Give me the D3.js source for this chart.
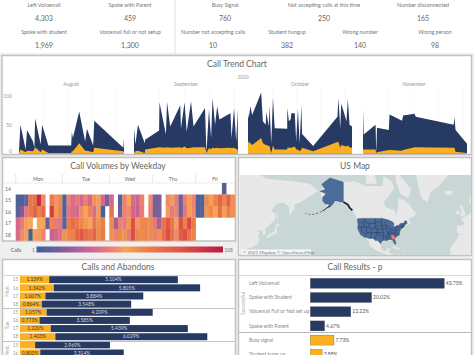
<!DOCTYPE html>
<html>
<head>
<meta charset="utf-8">
<script src="https://cdn.jsdelivr.net/npm/d3@7"></script>
<style>
  html, body { margin: 0; padding: 0; background: #efefef; overflow: hidden; }
  svg { display: block; font-family: Lato, "Open Sans", sans-serif; }
</style>
</head>
<body>
<div id="dash"></div>
<script>
// KPI tiles
const kpiLabels = ["Left Voicemail", "Spoke with Parent", "Spoke with student", "Voicemail full or not setup",
  "Busy Signal", "Not accepting calls at this time", "Number disconnected",
  "Number not accepting calls", "Student hungup", "Wrong number", "Wrong person"];
const kpiValues = ["4,303", "459", "1,969", "1,300", "760", "250", "165", "10", "382", "140", "98"];

// trend chart, hour-ish day positions
const months = ["August", "September", "October", "November"];
const monthLastDay = [31, 30, 31, 30];
const augDays = [1, 1.4, 2.9, 3.3, 5, 5.4, 5.6, 7.2, 7.6, 9.4, 15.9, 16.1, 16.4, 18.2, 19.9, 20.4, 22.2, 22.5, 30.8, 31];
const augCalls = [4, 50, 7, 41, 21, 10, 61, 16, 50, 14, 14, 38, 27, 73, 21, 43, 14, 57, 10, 27];
const augAbandons = [1, 7, 2, 5, 4, 8, 11, 2, 7, 1, 1, 4, 4, 18, 5, 5, 2, 10, 4, 2];
const sepDays = [1, 1.4, 2.1, 4, 4.1, 8, 8.1, 9.9, 10.2, 11.1, 13.9, 14.1, 15.1, 15.7, 16.9, 17.6, 20.8, 21.2, 21.9, 22.5, 22.9, 23.6, 24.2, 24.8, 27.9, 28.2, 28.9, 29.5, 29.9, 30];
const sepCalls = [44, 16, 50, 18, 24, 40, 89, 33, 90, 47, 84, 44, 89, 38, 91, 47, 79, 1, 76, 27, 96, 50, 82, 59, 70, 27, 79, 21, 76, 4];
const sepAbandons = [1, 4, 5, 1, 7, 11, 11, 10, 11, 10, 11, 9, 12, 9, 10, 11, 11, 1, 9, 8, 10, 9, 10, 9, 10, 9, 10, 8, 7, 2];
const octDays = [1, 1.2, 1.7, 2.2, 4.8, 5.3, 6.1, 6.3, 7, 7.2, 7.7, 8.2, 8.7, 12.3, 12.35, 12.8, 13.3, 13.5, 14.5, 14.9, 15.4, 15.9, 16.4, 16.6, 19.8, 26.8, 27.1, 27.6, 27.9, 29.4, 29.8, 30.3, 31];
const octCalls = [70, 61, 82, 67, 106, 56, 50, 72, 47, 83, 18, 97, 44, 43, 79, 56, 59, 70, 70, 21, 78, 18, 84, 34, 13, 64, 96, 44, 87, 56, 95, 50, 47];
const octAbandons = [17, 21, 18, 15, 27, 18, 15, 15, 13, 13, 1, 14, 7, 7, 10, 10, 10, 10, 12, 7, 7, 4, 7, 10, 4, 20, 20, 10, 15, 12, 14, 11, 10];
const novDays = [1, 1.2, 4.5, 4.7, 4.9, 8.2, 8.4, 11.9, 12.2, 15.4, 15.7, 26.3, 26.5, 26.8, 30];
const novCalls = [78, 33, 50, 1, 45, 41, 68, 57, 66, 69, 64, 50, 64, 41, 17];
const novAbandons = [7, 7, 7, 1, 2, 6, 6, 5, 6, 11, 11, 10, 10, 3, 1];

// heatmap, one list per hour, columns run Mon(11) Tue(11) Wed(10) Thu(10) Fri(9)
const hours = [14, 15, 16, 17, 18];
const weekdays = ["Mon", "Tue", "Wed", "Thu", "Fri"];
const weekdayCols = [0, 11, 22, 32, 42, 51];
const _ = null;
const calls14 = [_,_,_,_,_,_,_,_,_,_,_, _,_,_,_,_,_,_,_,_,_,_, _,_,_,_,_,_,_,_,_,_, _,_,_,_,_,_,_,_,_,_, _,_,_,_,_,_,7,_,_];
const calls15 = [5,6,10,68,70,100,46,_,66,48,60, 6,44,36,40,34,44,34,58,50,34,14, 34,_,8,44,52,36,32,44,_,46, 14,14,_,46,54,42,12,44,54,44, 6,6,60,54,64,76,62,78,58];
const calls16 = [8,16,40,68,76,64,74,_,92,56,62, 6,40,36,34,46,52,62,36,50,3,_, 70,_,12,44,46,34,30,42,_,44, 14,16,_,50,42,44,12,40,54,46, 6,8,56,60,52,72,54,66,58];
const calls17 = [34,42,54,52,_,52,52,10,62,42,40, 8,66,72,68,62,56,52,68,58,64,_, 60,24,44,42,56,84,48,62,62,60, 40,24,70,82,68,50,84,64,88,66, _,_,_,_,_,_,_,_,_];
const calls18 = [36,46,54,4,52,50,44,_,30,34,38, 58,62,64,76,82,72,68,76,60,66,_, 58,44,60,58,42,86,62,60,62,60, 44,58,72,86,70,46,80,84,70,64, _,_,_,_,_,_,_,_,_];
const callsByHour = [calls14, calls15, calls16, calls17, calls18];
const heatStops = [1, 16, 33, 44, 52, 60, 85, 108];
const heatColors = ["#3a6296", "#7f5e9c", "#cf6790", "#ee8072", "#f5a45a", "#ee8a4c", "#dd5046", "#b81a40"];

// map outlines as [lon, lat]
const northAmerica = [[-168,65.6],[-156,71.3],[-141,69.6],[-128,70],[-115,68],[-108,68],[-95,68],[-95,72],[-85,70],[-82,67],[-87,64],[-94,60],[-92,57],[-85,55.3],[-82,55],[-80,51.3],[-78,55],[-77,62],[-70,61],[-65,59],[-60,55],[-56,52],[-60,50],[-65,49],[-64,46],[-61,46],[-66,44],[-70,43.7],[-74,40.6],[-76,36.8],[-81,32],[-80,25],[-84,30],[-90,29],[-97,27],[-97.5,22],[-95,18.5],[-91,18.5],[-90.5,21],[-87,21],[-88,16],[-83.5,15],[-83.5,11],[-80,9],[-77,8.5],[-72,12],[-62,10.5],[-60,5],[-85,5],[-85,10],[-92,14.5],[-96,16],[-105,20],[-110,24],[-112,29],[-114.8,32],[-117,32.5],[-120,34.5],[-124,40],[-124.7,48.4],[-130,54.5],[-135,58],[-145,60],[-152,60],[-158,57],[-165,60]];
const baffin = [[-80,73.5],[-72,71],[-62,66.5],[-66,62],[-75,64.5],[-80,70]];
const victoria = [[-115,73],[-105,73],[-102,69],[-115,69]];
const greenland = [[-73,78],[-55,82],[-22,82],[-20,72],[-30,68],[-40,65],[-43,60],[-50,62],[-54,68],[-58,75]];
const iceland = [[-24,65.5],[-15,66],[-14,64.5],[-20,63.5]];
const cuba = [[-85,22],[-80,23],[-74.5,20],[-78,20]];
const hispaniola = [[-74,19.8],[-68.5,18.8],[-71,18]];
const europe = [[-9.5,37],[-9,43],[-1.5,43.5],[-1,46],[-4.5,48.5],[2,51],[8,54],[8,58],[5,60],[6,63],[14,68],[25,72],[40,70],[40,35],[-5,36]];
const britain = [[-5.5,50],[1.5,51.5],[-1.5,55],[-3,58.5],[-6,57.5],[-3.5,54],[-5,52]];
const ireland = [[-10,52],[-6,52.2],[-6,55],[-10,54]];
const africa = [[-6,36],[10,37],[30,31],[50,12],[40,-20],[10,0],[8,4.5],[-8,4.5],[-17,14.7],[-17,21],[-10,30]];
const asia = [[92,77],[113,74],[130,71],[160,70],[180,69],[-170,66],[-175,64.5],[178,62.5],[170,60],[163,59],[162,56],[156.7,51],[156,57],[150,59.5],[142,59],[135,54.5],[141,52],[140,48],[132,43],[128,40],[129,35.5],[126,34.5],[125,39],[121,39],[118,38.5],[122,37],[120,34],[122,30],[119,25],[113,22],[108,21.5],[106,19],[109,13],[105,9],[100,13],[99,9],[92,20]];
const japan = [[130,31],[136,34],[141,36],[142,40],[141,41.5],[145,43.5],[142,45.5],[140,42],[139,38],[133,35.5],[130,33.5]];
const sakhalin = [[142,46],[143,49],[143,54],[142,52]];
const landShapes = [northAmerica, baffin, victoria, greenland, iceland, cuba, hispaniola, europe, britain, ireland, africa, asia, japan, sakhalin];

const conus = [[-124.7,48.4],[-123,49],[-95.2,49],[-94.6,48.7],[-89.5,48],[-84.8,46.5],[-82.5,45.3],[-82.5,43],[-83,42],[-79,42.8],[-79,43.3],[-76.5,43.6],[-75,45],[-71.5,45],[-70,46.5],[-69,47.4],[-67.8,47],[-67,45],[-70,43.7],[-70.7,42],[-74,40.6],[-75.5,38],[-76,36.8],[-75.5,35.3],[-78,33.8],[-81,32],[-81.4,30.5],[-80,27],[-80.3,25.3],[-81.5,25.8],[-82.8,28],[-84,30],[-86,30.4],[-89,30.3],[-90,29.2],[-94,29.6],[-97.2,27.7],[-97.2,26],[-99.5,27.5],[-101.5,29.8],[-103,29],[-104.5,29.7],[-106.5,31.8],[-108.2,31.4],[-111,31.3],[-114.8,32.5],[-117.1,32.5],[-118.5,34],[-120.6,34.6],[-122.4,37.5],[-124.3,40.3],[-124,44]];
const alaska = [[-156.5,71.3],[-166,68.8],[-162,66.5],[-168,65.6],[-161,64.5],[-165,62.5],[-165,60.5],[-162,58.8],[-157.5,58.7],[-158,56.3],[-153.5,58.5],[-151,60.5],[-148,60.5],[-144,60],[-141,60],[-141,69.6],[-148,70.4]];
const georgia = [[-85.6,35],[-83.1,35],[-81,32],[-81.4,30.7],[-82,30.5],[-84.9,30.7],[-85,32]];
const panhandle = [[-141,60],[-136,58.5],[-133,56],[-130.5,54.8]];
const peninsula = [[-157.5,57.5],[-163,55],[-165,54.5]];
const aleutians = [[-166,54],[-170,52.9],[-178,51.7],[175,52.5]];
const stateLines = [
  [[-124,46.2],[-117,46]], [[-124.2,42],[-111,42]], [[-117,49],[-117,42]], [[-120,42],[-120,39],[-114.6,35]],
  [[-114,42],[-114,36.2]], [[-114.6,35],[-114.8,32.5]], [[-109,41],[-109,31.3]], [[-114,37],[-94.6,37]],
  [[-109,41],[-102,41]], [[-111,45],[-104,45]], [[-111,45],[-111,41]], [[-104,49],[-104,41]],
  [[-116,49],[-114,45.5],[-111,44.5]], [[-104,46],[-96.5,46]], [[-104,43],[-96.5,43]], [[-102,40],[-95.3,40]],
  [[-102,41],[-102,37]], [[-103,36.5],[-100,36.5],[-100,34.5],[-94.5,33.7]], [[-103,37],[-103,32],[-106.5,32]],
  [[-96.5,49],[-96.5,42.5],[-95.3,40],[-94.6,37],[-94.5,33.5],[-94,29.7]], [[-96.5,43.5],[-91.2,43.5]], [[-96,40.6],[-91.5,40.6]],
  [[-92,46.7],[-92.8,45],[-91.2,43.5],[-91,40.6],[-90,38],[-89.2,37],[-90,35],[-91,33],[-91.5,31],[-89.7,31],[-89.5,30.2]],
  [[-94,33],[-91,33]], [[-91,42.5],[-87.8,42.5]], [[-87.5,41.7],[-87.5,39],[-88,37.8]], [[-84.8,41.7],[-84.8,39]],
  [[-89.2,37],[-86,38],[-84.8,39],[-82.5,38.5],[-80.6,40.6]], [[-80.6,42],[-80.6,39.7]], [[-80.6,39.7],[-75.7,39.7]],
  [[-79.8,42],[-75,42],[-73.5,41]], [[-89.5,36.5],[-81.7,36.6],[-75.9,36.6]], [[-90,35],[-84.3,35],[-83,35.8]],
  [[-88.2,35],[-88.4,30.3]], [[-87.6,31],[-85,31]], [[-84.3,35],[-81,35],[-78.5,33.9]], [[-82,37.5],[-80,37.5],[-78,39.5]],
  [[-73.4,45],[-73.5,41]], [[-71,45.2],[-70.7,43]], [[-71.5,45],[-72.5,42.7]], [[-73.5,42.7],[-71,42.7]], [[-73.5,42],[-71.8,42]]
];

// calls and abandons
const abandonDays = ["Mon.", "Tue.", "Wed."];
const abandonHours = [15, 16, 17, 18, 15, 16, 17, 18, 15, 16];
const abandonPct = [1.159, 1.342, 1.007, 0.864, 1.057, 0.773, 1.22, 1.403, 0.6, 0.803];
const answeredPct = [5.104, 5.805, 3.884, 3.548, 4.209, 3.585, 5.439, 6.029, 2.969, 3.314];
const abandonLabelled = [true, true, true, true, true, true, true, true, false, true];

// call results
const resultNames = ["Left Voicemail", "Spoke with Student", "Voicemail Full or Not set up", "Spoke with Parent", "Busy signal", "Student hung up"];
const resultPct = [43.75, 20.02, 13.22, 4.67, 7.73, 3.88];
const resultOk = [true, true, true, true, false, false];

const navy = "#263a63", amber = "#fbb022", panelLine = "#c2c2c2", textGrey = "#6b6b6b";

const svg = d3.select("#dash").append("svg").attr("width", 474).attr("height", 355);

function label(parent, x, y, str, size, color, anchor) {
  return parent.append("text")
    .attr("x", x).attr("y", y)
    .attr("dy", "0.35em")
    .attr("text-anchor", anchor || "middle")
    .attr("font-size", size)
    .attr("fill", color || textGrey)
    .text(str);
}

function panel(x, y, w, h, title, titleX, titleY) {
  svg.append("rect").attr("x", x).attr("y", y).attr("width", w).attr("height", h)
    .attr("fill", "#fff").attr("stroke", panelLine).attr("stroke-width", 1.5);
  if (title) label(svg, titleX, titleY, title, 8.5, "#666");
}

// KPI block
svg.append("rect").attr("x", 0).attr("y", 0).attr("width", 474).attr("height", 53).attr("fill", "#fff");
svg.append("rect").attr("x", 174).attr("y", 0).attr("width", 2).attr("height", 53).attr("fill", "#efefef");
const kpiX = [44, 130, 44, 130, 225, 324, 423, 213, 287, 360, 435];
const kpiRow = [0, 0, 1, 1, 0, 0, 0, 1, 1, 1, 1];
kpiLabels.forEach((d, i) => {
  label(svg, kpiX[i], 5 + kpiRow[i] * 27, d, 5.4, "#777");
  label(svg, kpiX[i], 19 + kpiRow[i] * 26.5, kpiValues[i], 7, "#666");
});

// Trend chart
panel(2, 55.5, 469.5, 99, "Call Trend Chart", 237, 64);
label(svg, 243, 77, "2020", 4.8, "#999");
const trendY = d3.scaleLinear().domain([0, 100]).range([153.5, 96]);
const monthX = [[19, 124], [134, 238], [248, 352], [363, 467]];
const monthLabelX = [71, 186, 300, 414];
const trendData = [[augDays, augCalls, augAbandons], [sepDays, sepCalls, sepAbandons], [octDays, octCalls, octAbandons], [novDays, novCalls, novAbandons]];
[100, 50, 0].forEach(v => label(svg, 12, v === 0 ? 151 : trendY(v), v, 5, "#999", "end"));

months.forEach((m, i) => {
  label(svg, monthLabelX[i], 84.5, m, 5, "#999");
  const x = d3.scaleLinear().domain([1, monthLastDay[i]]).range(monthX[i]);
  const g = svg.append("g");
  // faint weekly gridlines
  d3.range(8, monthLastDay[i], 7).forEach(day => {
    g.append("line").attr("x1", x(day)).attr("x2", x(day)).attr("y1", 88).attr("y2", 153.5)
      .attr("stroke", "#f5f5f5").attr("stroke-width", 0.6);
  });
  const [days, calls, abandons] = trendData[i];
  const rows = days.map((d, j) => ({ day: d, calls: calls[j], abandons: abandons[j] }));
  g.append("path").datum(rows).attr("fill", navy)
    .attr("d", d3.area().x(d => x(d.day)).y0(trendY(0)).y1(d => trendY(d.calls)));
  g.append("path").datum(rows).attr("fill", amber)
    .attr("d", d3.area().x(d => x(d.day)).y0(trendY(0)).y1(d => trendY(d.abandons)));
});

// Heatmap
panel(2.5, 157.5, 233, 83.5, "Call Volumes by Weekday", 118, 166);
const heatX = d3.scaleLinear().domain(weekdayCols).range([15.7, 62.3, 109.3, 152.7, 195.7, 235]);
const heatY = d3.scaleBand().domain(hours).range([183, 240.5]);
const heatColor = d3.scaleLinear().domain(heatStops).range(heatColors);
const dayLabelX = [38, 86, 130, 173, 215];
weekdays.forEach((d, i) => {
  label(svg, dayLabelX[i], 179, d, 5, "#666");
  svg.append("line").attr("x1", heatX(weekdayCols[i])).attr("x2", heatX(weekdayCols[i]))
    .attr("y1", 174).attr("y2", 183).attr("stroke", "#ddd").attr("stroke-width", 0.7);
});
svg.append("line").attr("x1", 3).attr("x2", 235).attr("y1", 183).attr("y2", 183).attr("stroke", "#e4e4e4").attr("stroke-width", 0.7);
hours.forEach((h, r) => {
  label(svg, 8, heatY(h) + heatY.bandwidth() / 2, h, 5.2, "#666");
  callsByHour[r].forEach((v, c) => {
    if (v === null) return;
    svg.append("rect").attr("x", heatX(c)).attr("y", heatY(h))
      .attr("width", heatX(c + 1) - heatX(c) + 0.2).attr("height", heatY.bandwidth() + 0.2)
      .attr("fill", heatColor(v));
  });
});

// Colour legend
label(svg, 16, 250, "Calls", 5, "#555");
label(svg, 33.5, 250, "1", 4.8, "#777");
label(svg, 228.5, 250, "108", 4.8, "#777");
const grad = svg.append("defs").append("linearGradient").attr("id", "legendGrad");
heatStops.forEach((s, i) => {
  grad.append("stop").attr("offset", (s - 1) / 107).attr("stop-color", heatColors[i]);
});
const legendX = d3.scaleLinear().domain([1, 108]).range([36.5, 223]);
svg.append("rect").attr("x", legendX(1)).attr("y", 246.5).attr("width", legendX(108) - legendX(1)).attr("height", 6)
  .attr("fill", "url(#legendGrad)");

// Map
panel(238.5, 157.5, 233, 98, "US Map", 355, 166);
svg.append("clipPath").attr("id", "mapClip").append("rect")
  .attr("x", 240).attr("y", 175).attr("width", 231).attr("height", 80);
const mapG = svg.append("g").attr("clip-path", "url(#mapClip)");
mapG.append("rect").attr("x", 240).attr("y", 175).attr("width", 231).attr("height", 80).attr("fill", "#c9d6d6");
const projection = d3.geoMercator().rotate([90, 0]).scale(49.4).translate([387.3, 267]);
const ring = d3.line().curve(d3.curveLinearClosed);
const open = d3.line();
const proj = pts => pts.map(p => projection(p));
mapG.selectAll(".land").data(landShapes).join("path").attr("class", "land")
  .attr("d", d => ring(proj(d))).attr("fill", "#e7e8e7");
mapG.selectAll(".us").data([conus, alaska]).join("path").attr("class", "us")
  .attr("d", d => ring(proj(d))).attr("fill", "#4a6c9b").attr("stroke", "#2a3a52").attr("stroke-width", 0.35);
mapG.selectAll(".state").data(stateLines).join("path").attr("class", "state")
  .attr("d", d => open(proj(d))).attr("fill", "none").attr("stroke", "#26344e").attr("stroke-width", 0.45);
mapG.append("path").attr("d", ring(proj(georgia))).attr("fill", "#f07d78").attr("stroke", "#8a4a55").attr("stroke-width", 0.25);
mapG.append("path").attr("d", open(proj(panhandle))).attr("fill", "none").attr("stroke", "#1b2433").attr("stroke-width", 1.8);
mapG.append("path").attr("d", open(proj(peninsula))).attr("fill", "none").attr("stroke", "#1b2433").attr("stroke-width", 1);
mapG.append("path").attr("d", open(proj(aleutians))).attr("fill", "none").attr("stroke", "#1b2433").attr("stroke-width", 0.6).attr("stroke-dasharray", "2 2");
mapG.append("rect").attr("x", 241).attr("y", 249.5).attr("width", 70).attr("height", 5).attr("fill", "#fff").attr("opacity", 0.85);
label(mapG, 242.5, 252, "© 2021 Mapbox © OpenStreetMap", 4.6, "#777", "start");

// Calls and abandons
panel(2.5, 259.5, 233, 110, "Calls and Abandons", 118, 267.5);
svg.append("line").attr("x1", 3).attr("x2", 235).attr("y1", 275.5).attr("y2", 275.5).attr("stroke", "#ccc").attr("stroke-width", 0.8);
const pctX = d3.scaleLinear().domain([0, 8]).range([20, 221.6]);
const rowY = d3.scaleBand().domain(d3.range(abandonHours.length)).range([275.6, 275.6 + 8.15 * abandonHours.length]);
abandonHours.forEach((h, i) => {
  const y = rowY(i) + rowY.bandwidth() / 2;
  label(svg, 15.5, y, h, 4.8, "#999");
  svg.append("rect").attr("x", pctX(0)).attr("y", y - 3.5).attr("width", pctX(abandonPct[i]) - pctX(0)).attr("height", 7).attr("fill", amber);
  svg.append("rect").attr("x", pctX(abandonPct[i])).attr("y", y - 3.5)
    .attr("width", pctX(answeredPct[i]) - pctX(0)).attr("height", 7).attr("fill", navy);
  if (abandonLabelled[i]) {
    label(svg, (pctX(0) + pctX(abandonPct[i])) / 2, y, abandonPct[i].toFixed(3) + "%", 4.9, "#3a3a3a");
  }
  label(svg, pctX(abandonPct[i]) + (pctX(answeredPct[i]) - pctX(0)) / 2, y, answeredPct[i].toFixed(3) + "%", 4.9, "#d5d9e4");
});
abandonDays.forEach((d, i) => {
  const mid = i === 2 ? 351 : 291 + i * 34;
  svg.append("text").attr("transform", `translate(7,${mid}) rotate(-90)`).attr("text-anchor", "middle")
    .attr("dy", "0.35em").attr("font-size", 5).attr("fill", "#aaa").text(d);
  if (i > 0) {
    const sepY = 275.5 + i * 33;
    svg.append("line").attr("x1", 3).attr("x2", 235).attr("y1", sepY).attr("y2", sepY).attr("stroke", "#b5b5b5").attr("stroke-width", 0.8);
  }
});

// Call results
panel(238.5, 259.5, 233, 110, "Call Results - p", 355, 267.5);
svg.append("line").attr("x1", 239).attr("x2", 471).attr("y1", 275.5).attr("y2", 275.5).attr("stroke", "#ccc").attr("stroke-width", 0.8);
const resX = d3.scaleLinear().domain([0, 43.75]).range([310.3, 444.3]);
const resY = d3.scaleBand().domain(resultNames).range([276.5, 276.5 + 14.2 * 6]);
resultNames.forEach((n, i) => {
  const cy = resY(n) + resY.bandwidth() / 2 - 0.3;
  label(svg, 249, cy, n, 5, "#888", "start");
  svg.append("rect").attr("x", resX(0)).attr("y", cy - 5).attr("width", resX(resultPct[i]) - resX(0)).attr("height", 10)
    .attr("fill", resultOk[i] ? navy : amber).attr("stroke", "#555").attr("stroke-width", 0.3);
  label(svg, resX(resultPct[i]) + 1.5, cy, resultPct[i].toFixed(2) + "%", 5, "#555", "start");
});
svg.append("line").attr("x1", 239).attr("x2", 471).attr("y1", 332.5).attr("y2", 332.5).attr("stroke", "#999").attr("stroke-width", 0.7);
svg.append("text").attr("transform", "translate(243,303.5) rotate(-90)").attr("text-anchor", "middle")
  .attr("dy", "0.35em").attr("font-size", 5).attr("fill", "#aaa").text("Successful");
</script>
</body>
</html>
